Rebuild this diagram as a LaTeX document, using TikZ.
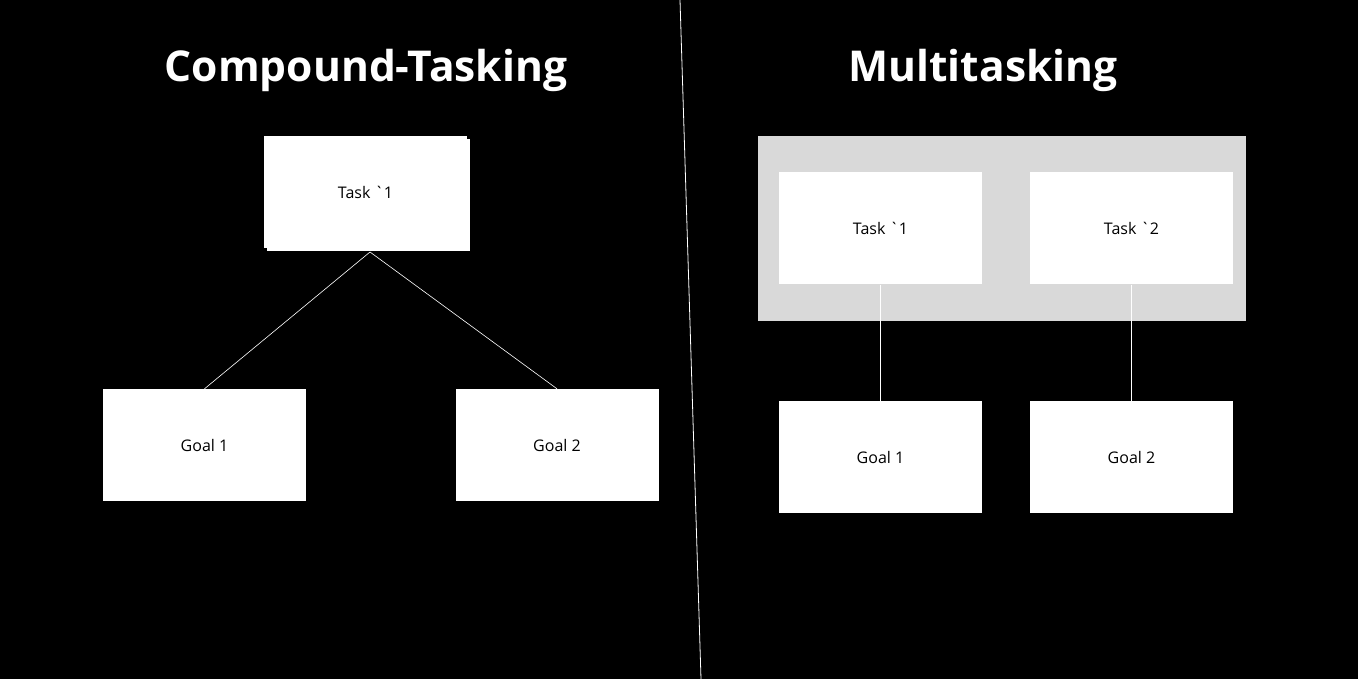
\documentclass[tikz,border=0pt]{standalone}
\usepackage{fontspec}
\setmainfont{Open Sans}
\usetikzlibrary{positioning}
\definecolor{panelgray}{HTML}{D9D9D9}
\tikzstyle{box} = [fill=white, minimum width=203pt, minimum height=112pt, inner sep=0pt, font=\fontsize{16}{19}\selectfont]
\tikzstyle{title} = [white, font=\fontsize{42.5}{48}\selectfont\bfseries]
\tikzstyle{link} = [white, line width=0.6pt]
\begin{document}
\begin{tikzpicture}[x=1pt,y=-1pt]
	%Background
	\fill[black] (0,0) rectangle (1358,679);
	\useasboundingbox (0,0) rectangle (1358,679);
	\draw[white, line width=0.8pt] (680,0) -- (701,679);
	
	%Titles
	\node[title] (leftTitle) at (366,70) {Compound-Tasking};
	\node[title] (rightTitle) at (983,70) {Multitasking};
	
	%Left nodes
	\node[box] (taskShadow) at (368.5,195) {};
	\node[box] (leftTask) at (365.5,192) {Task \textasciigrave1};
	\node[box] (leftGoalA) at (204.5,445) {Goal 1};
	\node[box] (leftGoalB) at (557,445) {Goal 2};
	\coordinate (fork) at (370,252);
	
	%Right nodes
	\fill[panelgray] (758,136) rectangle (1246,321);
	\node[box] (rightTaskA) at (880.5,228.5) {Task \textasciigrave1};
	\node[box] (rightTaskB) at (1131.5,228.5) {Task \textasciigrave2};
	\node[box] (rightGoalA) at (880.5,457) {Goal 1};
	\node[box] (rightGoalB) at (1131.5,457) {Goal 2};
	
	%Links
	\draw[link] (fork) -- (leftGoalA.north);
	\draw[link] (fork) -- (leftGoalB.north);
	\draw[link] (rightTaskA.south) -- (rightGoalA.north);
	\draw[link] (rightTaskB.south) -- (rightGoalB.north);
\end{tikzpicture}
\end{document}
